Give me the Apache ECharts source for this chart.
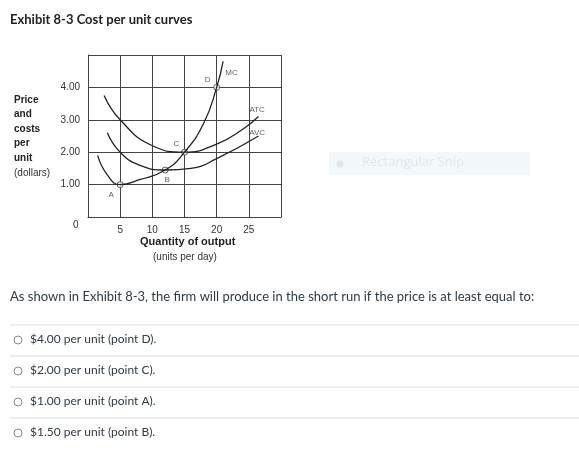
<!DOCTYPE html>
<html><head><meta charset="utf-8">
<script src="https://cdn.jsdelivr.net/npm/echarts@6/dist/echarts.min.js"></script>
<style>html,body{margin:0;padding:0;background:#fff}#c{width:579px;height:452px}</style>
</head><body><div id="c"></div>
<script>
const xTicks = [0,5,10,15,20,25,30];
const mc  = [[1.5,1.9],[3,1.3],[5,1.0],[8,1.15],[12,1.45],[15,2.0],[18,2.9],[20,4.0],[21,4.8]];
const atc = [[2.5,3.75],[5,3.0],[10,2.2],[15,2.0],[20,2.25],[24,2.7],[26.5,3.1]];
const avc = [[3,2.6],[5,2.0],[8,1.6],[12,1.45],[16,1.5],[20,1.8],[26.5,2.5]];
const points = [[5,1.0,'A'],[12,1.45,'B'],[15,2.0,'C'],[20,4.0,'D']];
const pointLabelPos = {A:[-9,10],B:[2,10],C:[-8,-8],D:[-9,-8]};
const curveLabels = [[22.3,4.45,'MC'],[26.3,3.3,'ATC'],[26.3,2.6,'AVC']];
const options = ['$4.00 per unit (point D).','$2.00 per unit (point C).','$1.00 per unit (point A).','$1.50 per unit (point B).'];
const yLabels = ['Price','and','costs','per','unit'];

const chart = echarts.init(document.getElementById('c'));
const F = 'Liberation Sans, Arial, sans-serif';
const graphic = [
  {type:'text',left:10,top:13,style:{text:'Exhibit 8-3 Cost per unit curves',font:'bold 13px Lato, sans-serif',fill:'#222'}},
  {type:'text',left:73,top:220,style:{text:'0',font:'10px '+F,fill:'#333'}},
  {type:'text',left:140,top:236,style:{text:'Quantity of output',font:'bold 11px '+F,fill:'#222'}},
  {type:'text',left:153,top:252,style:{text:'(units per day)',font:'10px '+F,fill:'#333'}},
  {type:'text',left:14,top:168,style:{text:'(dollars)',font:'10px '+F,fill:'#333'}},
  {type:'text',left:10,top:290,style:{text:'As shown in Exhibit 8-3, the firm will produce in the short run if the price is at least equal to:',font:'13px Lato, sans-serif',fill:'#2d3b45'}},
  {type:'rect',shape:{x:329,y:152,width:201,height:23},style:{fill:'#f3f8fd'}},
  {type:'circle',shape:{cx:340,cy:164,r:3.5},style:{fill:'#e5e5e5'}},
  {type:'text',left:362,top:156,style:{text:'Rectangular Snip',font:'13px "Open Sans", sans-serif',fill:'#e6e6e6'}}
];
yLabels.forEach((t,i)=>graphic.push({type:'text',left:14,top:95+i*14.5,style:{text:t,font:'bold 10px '+F,fill:'#222'}}));
[325,356,387,418].forEach(y=>graphic.push({type:'line',shape:{x1:10,y1:y,x2:579,y2:y},style:{stroke:'#ddd',lineWidth:1}}));
options.forEach((t,i)=>{
  const y=340+i*31;
  graphic.push({type:'circle',shape:{cx:18,cy:y,r:4},style:{fill:'#fff',stroke:'#888',lineWidth:1}});
  graphic.push({type:'text',left:30,top:y-7,style:{text:t,font:'12px Lato, sans-serif',fill:'#2d3b45'}});
});

const line = (d)=>({type:'line',data:d,smooth:true,showSymbol:false,lineStyle:{color:'#222',width:1.3},silent:true});
chart.setOption({
  animation:false,
  grid:{left:88,top:55,width:193,height:162},
  xAxis:{type:'value',min:0,max:30,interval:5,
    axisLine:{lineStyle:{color:'#444'}},axisTick:{show:false},
    splitLine:{lineStyle:{color:'#444',width:1}},
    axisLabel:{color:'#333',fontFamily:F,fontSize:10,formatter:v=>(v===0||v===30)?'':String(v)}},
  yAxis:{type:'value',min:0,max:5,interval:1,
    axisLine:{show:true,lineStyle:{color:'#444'}},axisTick:{show:false},
    splitLine:{lineStyle:{color:'#444',width:1}},
    axisLabel:{color:'#333',fontFamily:F,fontSize:10,formatter:v=>(v===0||v===5)?'':v.toFixed(2)}},
  graphic:graphic,
  series:[
    line(mc),line(atc),line(avc),
    {type:'scatter',data:points,symbol:'circle',symbolSize:6,itemStyle:{color:'#fff',borderColor:'#333',borderWidth:1},
      label:{show:true,formatter:p=>p.data[2],color:'#333',fontFamily:F,fontSize:8,position:'inside'},
      labelLayout:p=>{const o=pointLabelPos[points[p.dataIndex][2]];return {dx:o[0],dy:o[1]};}},
    {type:'scatter',data:curveLabels,symbolSize:0,label:{show:true,formatter:p=>p.data[2],color:'#333',fontFamily:F,fontSize:8,position:'inside'}}
  ]
});
</script></body></html>
